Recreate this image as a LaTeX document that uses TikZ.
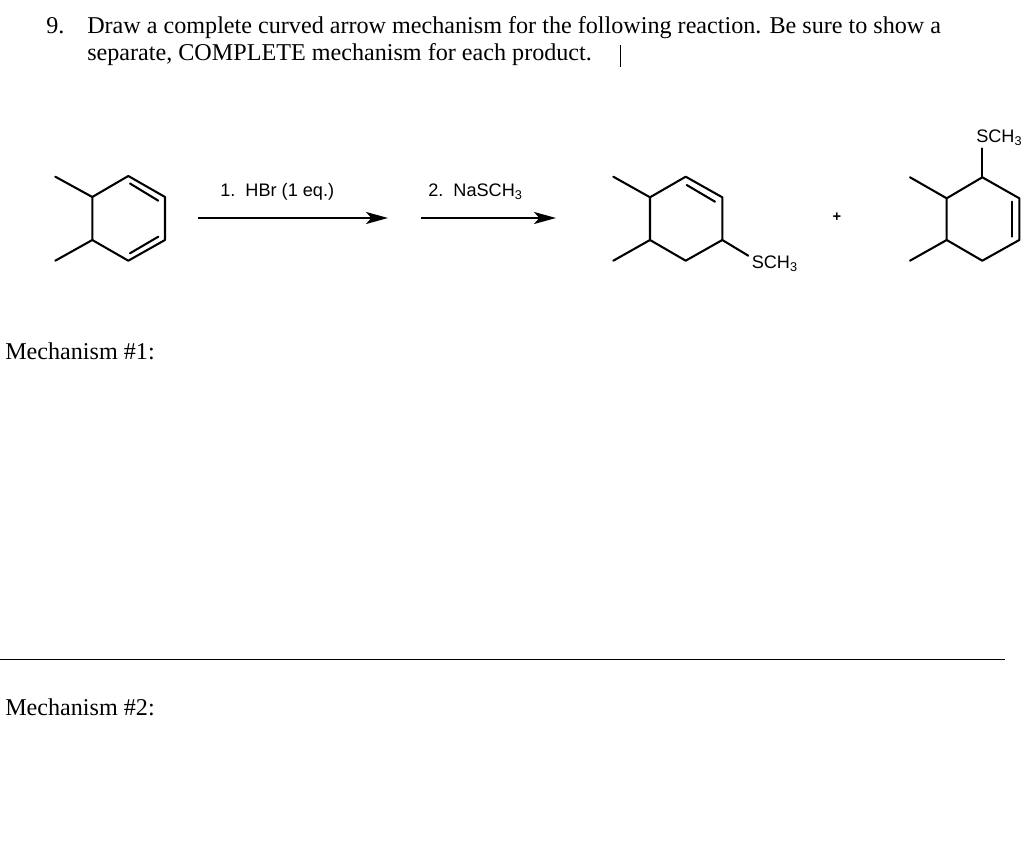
\documentclass[tikz,border=0pt]{standalone}
\usepackage{fontspec}
\setmainfont{Liberation Serif}
\setsansfont{Liberation Sans}
\usetikzlibrary{arrows.meta}
\tikzset{
  bond/.style={line width=1.55pt,line cap=round,line join=round},
  rxnarrow/.style={line width=1.7pt,-{Stealth[length=16.5pt,width=9pt,inset=4pt]}},
  body/.style={anchor=base west,inner sep=0pt,font=\fontsize{18.1}{20}\selectfont},
  chem/.style={anchor=base west,inner sep=0pt,font=\sffamily\fontsize{13.6}{16}\selectfont},
}
\begin{document}
\begin{tikzpicture}[x=0.75pt,y=-0.75pt]
\useasboundingbox (0,0) rectangle (1024,841);
% question text
\node[body] (num) at (46,34) {9.};
\node[body] (l1) at (87,34) {Draw a complete curved arrow mechanism for the following reaction. Be sure to show a};
\node[body] (l2) at (87,61) {separate, COMPLETE mechanism for each product.};
\coordinate (curT) at (620.5,45);
\coordinate (curB) at (620.5,67);
\draw[line width=0.8pt] (curT) -- (curB);
% reactant
\coordinate (aM1) at (55.3,176.7);
\coordinate (a1) at (92.3,197);
\coordinate (a2) at (128.3,176);
\coordinate (a3) at (165,197);
\coordinate (a4) at (165,240);
\coordinate (a5) at (128.3,260.7);
\coordinate (a6) at (92.3,240);
\coordinate (aM2) at (55.3,260.7);
\coordinate (aI1) at (130,183.5);
\coordinate (aI2) at (158.3,200.7);
\coordinate (aI3) at (158.3,236.7);
\coordinate (aI4) at (130,253.3);
\draw[bond] (aM1) -- (a1) -- (a2) -- (a3) -- (a4) -- (a5) -- (a6) -- (a1);
\draw[bond] (a6) -- (aM2);
\draw[bond] (aI1) -- (aI2);
\draw[bond] (aI3) -- (aI4);
% arrows
\coordinate (r1s) at (198,218);
\coordinate (r1e) at (388,218);
\coordinate (r2s) at (421,218);
\coordinate (r2e) at (556,218);
\draw[rxnarrow] (r1s) -- (r1e);
\draw[rxnarrow] (r2s) -- (r2e);
\node[chem] (hbr) at (220,197) {1.\ \ HBr (1 eq.)};
\node[chem] (nas) at (428,197) {2.\ \ NaSCH\textsubscript{3}};
% product 1
\coordinate (bM1) at (613.3,176.7);
\coordinate (b1) at (650,197.3);
\coordinate (b2) at (685.7,176.7);
\coordinate (b3) at (722.3,197.3);
\coordinate (b4) at (722.3,240);
\coordinate (b5) at (685.7,260.7);
\coordinate (b6) at (650,240);
\coordinate (bM2) at (613.3,260.7);
\coordinate (bI1) at (686.7,185);
\coordinate (bI2) at (715,201.7);
\node[chem] (bS) at (751.5,268.5) {SCH\textsubscript{3}};
\coordinate (bSe) at (748.3,255.7);
\draw[bond] (bM1) -- (b1) -- (b2) -- (b3) -- (b4) -- (b5) -- (b6) -- (b1);
\draw[bond] (b6) -- (bM2);
\draw[bond] (bI1) -- (bI2);
\draw[bond] (b4) -- (bSe);
% plus
\node[anchor=center,inner sep=0pt,font=\sffamily\bfseries\fontsize{11}{12}\selectfont] (plus) at (837,217) {+};
% product 2
\coordinate (cM1) at (910,177.3);
\coordinate (c1) at (946.7,198.3);
\coordinate (c2) at (982.3,177.3);
\coordinate (c3) at (1019.3,198.3);
\coordinate (c4) at (1019.3,240);
\coordinate (c5) at (982.3,260.7);
\coordinate (c6) at (946.7,240);
\coordinate (cM2) at (910,260.7);
\coordinate (cI1) at (1012.3,201.7);
\coordinate (cI2) at (1012.3,236.7);
\coordinate (cSe) at (982.3,148.3);
\node[chem] (cS) at (976,143) {SCH\textsubscript{3}};
\draw[bond] (cM1) -- (c1) -- (c2) -- (c3) -- (c4) -- (c5) -- (c6) -- (c1);
\draw[bond] (c6) -- (cM2);
\draw[bond] (cI1) -- (cI2);
\draw[bond] (c2) -- (cSe);
% headings
\node[body] (m1) at (5,359) {Mechanism \#1:};
\coordinate (ruleL) at (0,659.5);
\coordinate (ruleR) at (1005,659.5);
\draw[line width=0.85pt] (ruleL) -- (ruleR);
\node[body] (m2) at (5,715) {Mechanism \#2:};
\end{tikzpicture}
\end{document}
